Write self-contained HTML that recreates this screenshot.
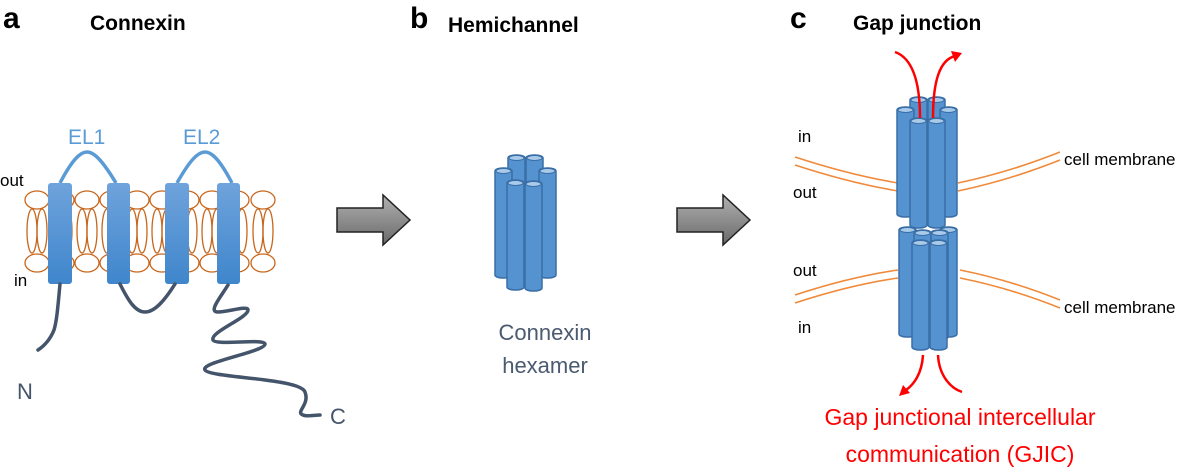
<!DOCTYPE html>
<html><head><style>html,body{margin:0;padding:0;background:#fff}svg{display:block}</style></head><body>
<svg width="1200" height="469" viewBox="0 0 1200 469" xmlns="http://www.w3.org/2000/svg" font-family="Liberation Sans, sans-serif">
<defs>
<linearGradient id="tm" x1="0" y1="0" x2="0" y2="1"><stop offset="0" stop-color="#6fa3dc"/><stop offset="1" stop-color="#3f86cc"/></linearGradient>
<linearGradient id="ar" x1="0" y1="0" x2="0" y2="1"><stop offset="0" stop-color="#b0b0b0"/><stop offset="1" stop-color="#6a6a6a"/></linearGradient>
<g id="cyl"><rect x="0" y="0" width="17" height="110" rx="8" ry="3" fill="#5592d0" stroke="#3a6ea6" stroke-width="1.5"/><ellipse cx="8.5" cy="3" rx="7.5" ry="2.5" fill="#a9cbe9" stroke="#3a6ea6" stroke-width="1"/></g>
<g id="lip">
<ellipse cx="37" cy="200" rx="12" ry="9"/><ellipse cx="37" cy="263" rx="12" ry="9"/>
<ellipse cx="32" cy="231" rx="5" ry="22"/><ellipse cx="42" cy="231" rx="5" ry="22"/>
</g>
</defs>
<!-- Titles -->
<text x="3" y="28" font-size="30" font-weight="bold">a</text>
<text x="90" y="30" font-size="21" font-weight="bold">Connexin</text>
<text x="410" y="28" font-size="30" font-weight="bold">b</text>
<text x="448" y="32" font-size="21" font-weight="bold">Hemichannel</text>
<text x="790" y="28" font-size="30" font-weight="bold">c</text>
<text x="853" y="30" font-size="21" font-weight="bold">Gap junction</text>

<!-- Panel a membrane -->
<g fill="none" stroke="#c8661c" stroke-width="1.3">
<use href="#lip"/><use href="#lip" x="25"/><use href="#lip" x="50"/><use href="#lip" x="75"/><use href="#lip" x="100"/>
<use href="#lip" x="125"/><use href="#lip" x="150"/><use href="#lip" x="175"/><use href="#lip" x="200"/><use href="#lip" x="226"/>
</g>
<g fill="none" stroke="#5b9bd5" stroke-width="3.5">
<path d="M60 183 C72 160 80 152 87 152 C94 152 102 160 116 183"/>
<path d="M177 183 C190 160 198 152 205 152 C212 152 220 160 232 183"/>
</g>
<g fill="url(#tm)">
<rect x="48" y="183" width="24" height="101" rx="3"/><rect x="107" y="183" width="23" height="101" rx="3"/>
<rect x="165" y="183" width="24" height="101" rx="3"/><rect x="217" y="183" width="23" height="101" rx="3"/>
</g>
<g fill="none" stroke="#44546a" stroke-width="3.5" stroke-linecap="round">
<path d="M60 284 C58 305 57 320 54 330 C50 340 44 346 38 350"/>
<path d="M120 284 C128 300 135 312 145 312 C155 312 165 300 175 284"/>
<path d="M228 285 C220 298 208 312 218 312 C228 312 248 305 248 310 C248 318 210 332 213 340 C216 346 265 338 265 344 C265 352 200 362 205 370 C210 378 300 378 305 392 C310 405 295 412 303 415 C307 417 315 415 320 415"/>
</g>
<text x="68" y="144" font-size="21" fill="#5b9bd5">EL1</text>
<text x="183" y="144" font-size="21" fill="#5b9bd5">EL2</text>
<text x="0" y="186" font-size="17">out</text>
<text x="14" y="286" font-size="17">in</text>
<text x="17" y="399" font-size="22" fill="#44546a">N</text>
<text x="330" y="424" font-size="22" fill="#44546a">C</text>

<!-- block arrows -->
<path d="M337 208 H383 V195 L410 220 L383 245 V232 H337 Z" fill="url(#ar)" stroke="#222" stroke-width="1.5"/>
<path d="M677 208 H723 V195 L750 220 L723 245 V232 H677 Z" fill="url(#ar)" stroke="#222" stroke-width="1.5"/>

<!-- hemichannel -->
<use href="#cyl" x="508" y="155"/>
<use href="#cyl" x="526" y="155"/>
<use href="#cyl" x="495" y="168"/>
<use href="#cyl" x="539" y="168"/>
<use href="#cyl" x="507" y="180"/>
<use href="#cyl" x="525" y="181"/>
<text x="545" y="340" font-size="22" fill="#4a5a70" text-anchor="middle">Connexin</text>
<text x="545" y="373" font-size="22" fill="#4a5a70" text-anchor="middle">hexamer</text>

<!-- gap junction membranes -->
<g fill="none" stroke="#f08a3a" stroke-width="1.6">
<path d="M795 157 Q850 175 898 183"/><path d="M795 165 Q850 183 898 191"/>
<path d="M958 183 Q1010 172 1060 152"/><path d="M958 191 Q1010 180 1060 160"/>
<path d="M795 295 Q850 277 898 270"/><path d="M795 303 Q850 285 898 278"/>
<path d="M960 270 Q1010 280 1060 300"/><path d="M960 278 Q1010 288 1060 308"/>
</g>
<use href="#cyl" x="910" y="97"/><use href="#cyl" x="928" y="97"/>
<use href="#cyl" x="897" y="107"/><use href="#cyl" x="940" y="107"/>
<use href="#cyl" x="910" y="118"/><use href="#cyl" x="928" y="118"/>
<use href="#cyl" x="899" y="227"/><use href="#cyl" x="940" y="227"/>
<use href="#cyl" x="914" y="230"/><use href="#cyl" x="931" y="230"/>
<use href="#cyl" x="912" y="240"/><use href="#cyl" x="930" y="240"/>
<g fill="none" stroke="#ff0000" stroke-width="2.5">
<path d="M895 52 C912 58 920 80 920 118"/>
<path d="M933 118 C933 80 940 60 955 56"/>
<path d="M923 355 C922 372 915 385 903 392"/>
<path d="M938 355 C939 375 950 388 962 392"/>
</g>
<path d="M962 53 L951 51 L955 62 Z" fill="#ff0000"/>
<path d="M899 396 L903 385 L910 393 Z" fill="#ff0000"/>
<text x="798" y="142" font-size="17">in</text>
<text x="793" y="198" font-size="17">out</text>
<text x="793" y="276" font-size="17">out</text>
<text x="798" y="333" font-size="17">in</text>
<text x="1064" y="165" font-size="17">cell membrane</text>
<text x="1064" y="313" font-size="17">cell membrane</text>
<text x="960" y="425" font-size="23" fill="#ff0000" text-anchor="middle">Gap junctional intercellular</text>
<text x="960" y="462" font-size="23" fill="#ff0000" text-anchor="middle">communication (GJIC)</text>
</svg>
</body></html>
